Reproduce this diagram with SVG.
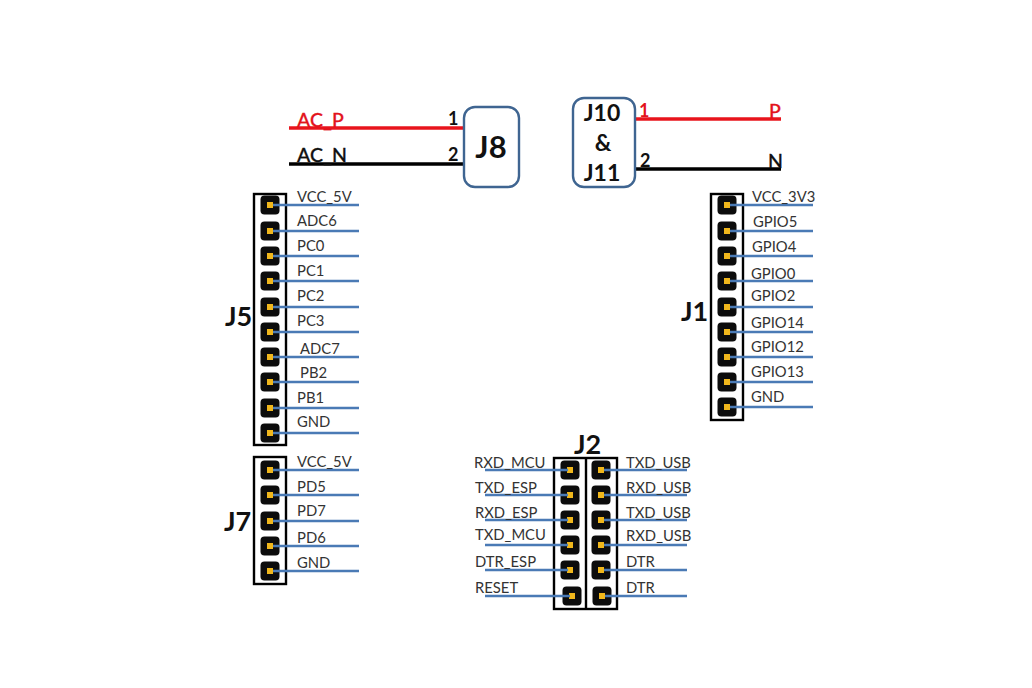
<svg xmlns="http://www.w3.org/2000/svg" width="1032" height="688" viewBox="0 0 1032 688">
<style>
text{font-family:Lato,"Noto Sans",sans-serif;fill:#333}
.l{font-size:14.8px}
.big{font-size:27px;font-weight:700;fill:#111}
.mid{font-size:23px;font-weight:700;fill:#111;text-anchor:middle}
.num{font-size:18px;font-weight:700;fill:#111}
.ac{font-size:19.5px;font-weight:500;stroke:#111;stroke-width:.3;fill:#111}
.red{fill:#e3131c;stroke:#e3131c}
.box{fill:#fff;stroke:#000;stroke-width:2.4}
.rbox{fill:#fff;stroke:#3f6591;stroke-width:2.4}
.w{stroke:#4a7ab5;stroke-width:2.6;fill:none}
.rw{stroke:#e8141c;stroke-width:3.4;fill:none}
.kw{stroke:#000;stroke-width:3.4;fill:none}
.pb{fill:#0c0c0c}
.py{fill:#f0b71c}
</style>
<defs>
<g id="pin"><rect class="pb" x="-9.5" y="-9.5" width="19" height="19" rx="4"/><rect class="py" x="-3" y="-3" width="6" height="6"/></g>
</defs>

<g id="connectors">
<path class="rw" d="M289 128H464"/>
<path class="kw" d="M289 164H464"/>
<path class="rw" d="M636 119H781"/>
<path class="kw" d="M636 169H781"/>
</g>

<g id="J8">
<rect class="rbox" x="464" y="107" width="55" height="80" rx="11"/>
<text class="big" x="491" y="158" text-anchor="middle" style="font-size:31px">J8</text>
<text class="num" x="448" y="125">1</text>
<text class="num" x="448" y="161">2</text>
<text class="ac red" x="297" y="127">AC_P</text>
<text class="ac" x="297" y="162">AC_N</text>
</g>

<g id="J10">
<rect class="rbox" x="573" y="98" width="62" height="89" rx="11"/>
<text class="mid" x="602" y="121">J10</text>
<text class="mid" x="603" y="151">&amp;</text>
<text class="mid" x="602" y="181">J11</text>
<text class="num red" x="639" y="117" style="stroke:none">1</text>
<text class="num" x="640" y="167">2</text>
<text class="ac red" x="769" y="118">P</text>
<text class="ac" x="768" y="168">N</text>
</g>

<g id="J5">
<rect class="box" x="254" y="194" width="32" height="251"/>
<use href="#pin" x="270" y="205"/><use href="#pin" x="270" y="231"/><use href="#pin" x="270" y="256"/><use href="#pin" x="270" y="281"/><use href="#pin" x="270" y="307"/><use href="#pin" x="270" y="332"/><use href="#pin" x="270" y="357"/><use href="#pin" x="270" y="382"/><use href="#pin" x="270" y="408"/><use href="#pin" x="270" y="433"/>
<path class="w" d="M273 205H359M273 231H359M273 256H359M273 281H359M273 307H359M273 332H359M273 357H359M273 382H359M273 408H359M273 433H359"/>
<text class="big" x="225" y="326">J5</text>
<text class="l" x="297" y="202">VCC_5V</text>
<text class="l" x="297" y="226">ADC6</text>
<text class="l" x="297" y="251">PC0</text>
<text class="l" x="297" y="276">PC1</text>
<text class="l" x="297" y="301">PC2</text>
<text class="l" x="297" y="326">PC3</text>
<text class="l" x="300" y="354">ADC7</text>
<text class="l" x="300" y="378">PB2</text>
<text class="l" x="297" y="403">PB1</text>
<text class="l" x="297" y="427">GND</text>
</g>

<g id="J7">
<rect class="box" x="254" y="457" width="32" height="127"/>
<use href="#pin" x="270" y="470"/><use href="#pin" x="270" y="495"/><use href="#pin" x="270" y="521"/><use href="#pin" x="270" y="546"/><use href="#pin" x="270" y="571"/>
<path class="w" d="M273 470H359M273 495H359M273 521H359M273 546H359M273 571H359"/>
<text class="big" x="224" y="531">J7</text>
<text class="l" x="297" y="467">VCC_5V</text>
<text class="l" x="297" y="492">PD5</text>
<text class="l" x="297" y="516">PD7</text>
<text class="l" x="297" y="543">PD6</text>
<text class="l" x="297" y="568">GND</text>
</g>

<g id="J1">
<rect class="box" x="711" y="194" width="32" height="226"/>
<use href="#pin" x="727" y="205"/><use href="#pin" x="727" y="231"/><use href="#pin" x="727" y="256"/><use href="#pin" x="727" y="281"/><use href="#pin" x="727" y="307"/><use href="#pin" x="727" y="332"/><use href="#pin" x="727" y="357"/><use href="#pin" x="727" y="382"/><use href="#pin" x="727" y="407"/>
<path class="w" d="M730 205H813M730 231H813M730 256H813M730 281H813M730 307H813M730 332H813M730 357H813M730 382H813M730 407H813"/>
<text class="big" x="681" y="321">J1</text>
<text class="l" x="752" y="202">VCC_3V3</text>
<text class="l" x="753" y="227">GPIO5</text>
<text class="l" x="752" y="252">GPIO4</text>
<text class="l" x="751" y="279">GPIO0</text>
<text class="l" x="751" y="301">GPIO2</text>
<text class="l" x="751" y="328">GPIO14</text>
<text class="l" x="751" y="352">GPIO12</text>
<text class="l" x="751" y="377">GPIO13</text>
<text class="l" x="751" y="402">GND</text>
</g>

<g id="J2">
<rect class="box" x="554" y="458" width="63" height="151"/>
<path class="box" d="M586 458V609"/>
<use href="#pin" x="570" y="470"/><use href="#pin" x="570" y="495"/><use href="#pin" x="570" y="520"/><use href="#pin" x="570" y="545"/><use href="#pin" x="570" y="570"/><use href="#pin" x="572" y="596"/>
<use href="#pin" x="601" y="470"/><use href="#pin" x="601" y="495"/><use href="#pin" x="601" y="520"/><use href="#pin" x="601" y="545"/><use href="#pin" x="601" y="570"/><use href="#pin" x="602" y="596"/>
<path class="w" d="M485 470H568M485 495H568M485 520H568M485 545H568M485 570H568M485 596H570M604 470H687M604 495H687M604 520H687M604 545H687M604 570H687M605 596H687"/>
<text class="big" x="574" y="454">J2</text>
<text class="l" x="474" y="468">RXD_MCU</text>
<text class="l" x="475" y="493">TXD_ESP</text>
<text class="l" x="475" y="518">RXD_ESP</text>
<text class="l" x="475" y="540">TXD_MCU</text>
<text class="l" x="475" y="567">DTR_ESP</text>
<text class="l" x="475" y="593">RESET</text>
<text class="l" x="626" y="468">TXD_USB</text>
<text class="l" x="626" y="493">RXD_USB</text>
<text class="l" x="626" y="518">TXD_USB</text>
<text class="l" x="626" y="541">RXD_USB</text>
<text class="l" x="626" y="567">DTR</text>
<text class="l" x="626" y="593">DTR</text>
</g>
</svg>
